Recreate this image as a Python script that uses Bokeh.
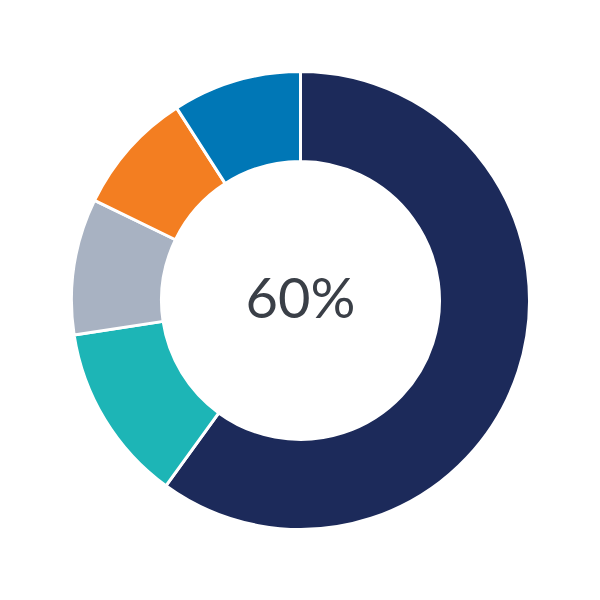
import numpy as np
from bokeh.plotting import figure
from bokeh.models import ColumnDataSource
from bokeh.core.properties import value
from bokeh.embed import file_html
from bokeh.resources import INLINE

# Data (clockwise from 12 o'clock)
categories = ["A", "B", "C", "D", "E"]
shares = [60.0, 12.6, 9.6, 8.7, 9.1]
colors = ["#1c2a5a", "#1db5b6", "#a8b2c2", "#f37e21", "#0077b6"]
center_label = "60%"

vals = np.array(shares, dtype=float)
frac = vals / vals.sum()
cum_end = np.cumsum(frac)
cum_start = cum_end - frac
start_angle = np.pi / 2 - 2 * np.pi * cum_start
end_angle = np.pi / 2 - 2 * np.pi * cum_end

src = ColumnDataSource(dict(cat=categories, start=start_angle, end=end_angle, color=colors))

W = 584
p = figure(width=W, height=W, x_range=(-300, 284), y_range=(-284, 300),
           output_backend="svg", toolbar_location=None, min_border=0)
p.axis.visible = False
p.grid.visible = False
p.outline_line_color = None
p.background_fill_color = "white"

p.annular_wedge(x=0, y=0, inner_radius=139, outer_radius=229,
                start_angle="start", end_angle="end", direction="clock",
                fill_color="color", line_color="white", line_width=3, source=src)

p.text(x=[0], y=[4], text=[center_label], text_align="center", text_baseline="middle",
       text_font=value("Lato"), text_font_size="56px", text_color="#3a3f47")

open("out.html", "w").write(file_html(p, INLINE))
